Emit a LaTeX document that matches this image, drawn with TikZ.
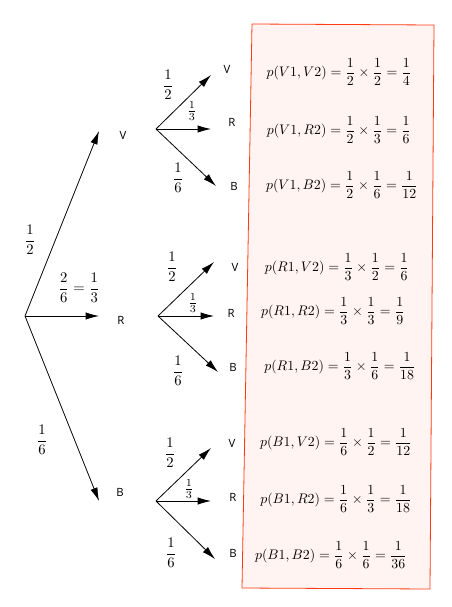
\documentclass[tikz,border=0pt]{standalone}
\usepackage{amsmath}
\usepackage{fontspec}
\setsansfont{Open Sans}
\usetikzlibrary{arrows.meta}
\definecolor{boxline}{HTML}{FF3A10}
\definecolor{boxfill}{HTML}{FFF4F1}
\tikzset{
  arr/.style={-{Latex[length=10pt,width=5.5pt]}, line width=0.6pt},
  lab/.style={font=\sffamily\fontsize{8.5}{10}\selectfont, inner sep=0pt},
  frac/.style={inner sep=0pt, scale=1.1},
  sfrac/.style={inner sep=0pt, scale=1.15},
  eq/.style={inner sep=0pt, scale=1.04},
}
\begin{document}
\begin{tikzpicture}[x=0.75pt,y=-0.75pt]
\useasboundingbox (0,0) rectangle (451,607);
% results box
\draw[boxline, fill=boxfill, line width=0.6pt] (252,24) -- (434,25) -- (430,589) -- (242,588) -- cycle;
% root
\coordinate (o) at (25,316);
\coordinate (tV) at (99,131);
\coordinate (tR) at (99,316);
\coordinate (tB) at (99,501);
\draw[arr] (o) -- (tV);
\draw[arr] (o) -- (tR);
\draw[arr] (o) -- (tB);
\node[frac] (f1) at (30,240) {$\dfrac{1}{2}$};
\node[frac] (f2) at (79,288) {$\dfrac{2}{6}=\dfrac{1}{3}$};
\node[frac] (f3) at (42,440) {$\dfrac{1}{6}$};
\node[lab] (V) at (123,135) {V};
\node[lab] (R) at (121,320) {R};
\node[lab] (B) at (120,492) {B};
% V group
\coordinate (oV) at (156,129);
\coordinate (vV) at (211,75);
\coordinate (vR) at (211,129);
\coordinate (vB) at (216,186);
\draw[arr] (oV) -- (vV);
\draw[arr] (oV) -- (vR);
\draw[arr] (oV) -- (vB);
\node[frac] at (168,85) {$\dfrac{1}{2}$};
\node[sfrac] at (192,111) {$\frac{1}{3}$};
\node[frac] at (178,178) {$\dfrac{1}{6}$};
\node[lab] (VV) at (227,69) {V};
\node[lab] (VR) at (232,122) {R};
\node[lab] (VB) at (234,186) {B};
% R group
\coordinate (oR) at (158,316);
\coordinate (rV) at (214,262);
\coordinate (rR) at (214,316);
\coordinate (rB) at (218,372);
\draw[arr] (oR) -- (rV);
\draw[arr] (oR) -- (rR);
\draw[arr] (oR) -- (rB);
\node[frac] at (172,267) {$\dfrac{1}{2}$};
\node[sfrac] at (193,303) {$\frac{1}{3}$};
\node[frac] at (178,371) {$\dfrac{1}{6}$};
\node[lab] (RV) at (235,267) {V};
\node[lab] (RR) at (231,313) {R};
\node[lab] (RB) at (233,367) {B};
% B group
\coordinate (oB) at (156,501);
\coordinate (bV) at (211,448);
\coordinate (bR) at (211,501);
\coordinate (bB) at (215,559);
\draw[arr] (oB) -- (bV);
\draw[arr] (oB) -- (bR);
\draw[arr] (oB) -- (bB);
\node[frac] at (170,453) {$\dfrac{1}{2}$};
\node[sfrac] at (189,489) {$\frac{1}{3}$};
\node[frac] at (171,553) {$\dfrac{1}{6}$};
\node[lab] (BV) at (232,443) {V};
\node[lab] (BR) at (233,497) {R};
\node[lab] (BB) at (233,553) {B};
% equations
\node[eq] (e1) at (339,72) {$p(V1,V2)=\dfrac{1}{2}\times\dfrac{1}{2}=\dfrac{1}{4}$};
\node[eq] (e2) at (339,130) {$p(V1,R2)=\dfrac{1}{2}\times\dfrac{1}{3}=\dfrac{1}{6}$};
\node[eq] (e3) at (342,185) {$p(V1,B2)=\dfrac{1}{2}\times\dfrac{1}{6}=\dfrac{1}{12}$};
\node[eq] (e4) at (337,267) {$p(R1,V2)=\dfrac{1}{3}\times\dfrac{1}{2}=\dfrac{1}{6}$};
\node[eq] (e5) at (333,311) {$p(R1,R2)=\dfrac{1}{3}\times\dfrac{1}{3}=\dfrac{1}{9}$};
\node[eq] (e6) at (340,366) {$p(R1,B2)=\dfrac{1}{3}\times\dfrac{1}{6}=\dfrac{1}{18}$};
\node[eq] (e7) at (336,442) {$p(B1,V2)=\dfrac{1}{6}\times\dfrac{1}{2}=\dfrac{1}{12}$};
\node[eq] (e8) at (336,499) {$p(B1,R2)=\dfrac{1}{6}\times\dfrac{1}{3}=\dfrac{1}{18}$};
\node[eq] (e9) at (331,555) {$p(B1,B2)=\dfrac{1}{6}\times\dfrac{1}{6}=\dfrac{1}{36}$};
\end{tikzpicture}
\end{document}
